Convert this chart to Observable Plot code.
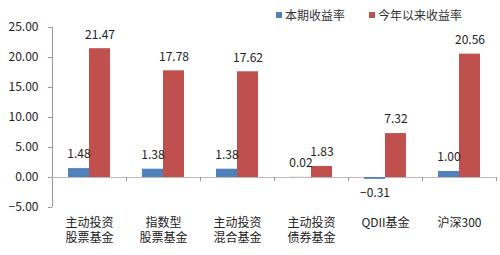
<!DOCTYPE html>
<html><head><meta charset="utf-8">
<script src="https://cdn.jsdelivr.net/npm/d3@7"></script>
<script src="https://cdn.jsdelivr.net/npm/@observablehq/plot@0.6"></script>
<style>
body{margin:0;background:#fff;font-family:"Noto Sans CJK SC",sans-serif;}
#wrap{position:relative;width:500px;height:255px;}
#legend{position:absolute;top:6px;left:276px;font-size:12px;color:#333;display:flex;align-items:center;white-space:nowrap;}
#legend .sw{display:inline-block;width:6px;height:6px;margin-right:3px;}
#legend .item{display:flex;align-items:center;margin-right:24px;}
</style></head>
<body><div id="wrap"><div id="legend"></div></div>
<script>
const categories = ["主动投资\n股票基金", "指数型\n股票基金", "主动投资\n混合基金", "主动投资\n债券基金", "QDII基金", "沪深300"];
const seriesNames = ["本期收益率", "今年以来收益率"];
const current = [1.48, 1.38, 1.38, 0.02, -0.31, 1.00];
const ytd = [21.47, 17.78, 17.62, 1.83, 7.32, 20.56];
const yTicks = [-5, 0, 5, 10, 15, 20, 25];
const colors = ["#4F81BD", "#C0504D"];

const rowsCur = categories.map((c, i) => ({category: c, value: current[i]}));
const rowsYtd = categories.map((c, i) => ({category: c, value: ytd[i]}));
const fmt = d3.format(".2f");
const inset = 26.5, off = 10.5;

const legend = document.getElementById("legend");
seriesNames.forEach((s, i) => {
  const it = document.createElement("div"); it.className = "item";
  const sw = document.createElement("span"); sw.className = "sw"; sw.style.background = colors[i];
  it.appendChild(sw); it.appendChild(document.createTextNode(s));
  legend.appendChild(it);
});

const labelMarks = (rows, dx) => [
  Plot.text(rows.filter(d => d.value >= 0), {x: "category", y: "value", text: d => fmt(d.value), dx, dy: -14, fill: "#222"}),
  Plot.text(rows.filter(d => d.value < 0), {x: "category", y: "value", text: d => fmt(d.value), dx, dy: 14, fill: "#222"})
];

const chart = Plot.plot({
  width: 500, height: 255,
  marginTop: 27, marginBottom: 48, marginLeft: 52, marginRight: 4,
  x: {domain: categories, padding: 0, axis: null},
  y: {domain: [-5, 25], axis: null},
  style: {fontFamily: '"Noto Sans CJK SC", sans-serif', fontSize: "12px", background: "#fff"},
  marks: [
    Plot.axisY({ticks: yTicks, tickFormat: fmt, tickSize: 4, tickPadding: 10, stroke: "#999", fill: "#222", fontSize: 12, label: null}),
    Plot.axisX({tickSize: 0, tickPadding: 8, fill: "#222", fontSize: 12, lineHeight: 1.3, label: null}),
    Plot.ruleX([categories[0]], {dx: -37, y1: -5, y2: 25, stroke: "#999"}),
    Plot.ruleY([0], {stroke: "#bbb"}),
    Plot.ruleX(categories, {dx: 37, y1: 0, y2: -0.7, stroke: "#999"}),
    Plot.barY(rowsCur, {x: "category", y: "value", fill: colors[0], dx: -off, insetLeft: inset, insetRight: inset}),
    Plot.barY(rowsYtd, {x: "category", y: "value", fill: colors[1], dx: off, insetLeft: inset, insetRight: inset}),
    ...labelMarks(rowsCur, -off),
    ...labelMarks(rowsYtd, off)
  ]
});
document.getElementById("wrap").appendChild(chart);
</script>
</body></html>
